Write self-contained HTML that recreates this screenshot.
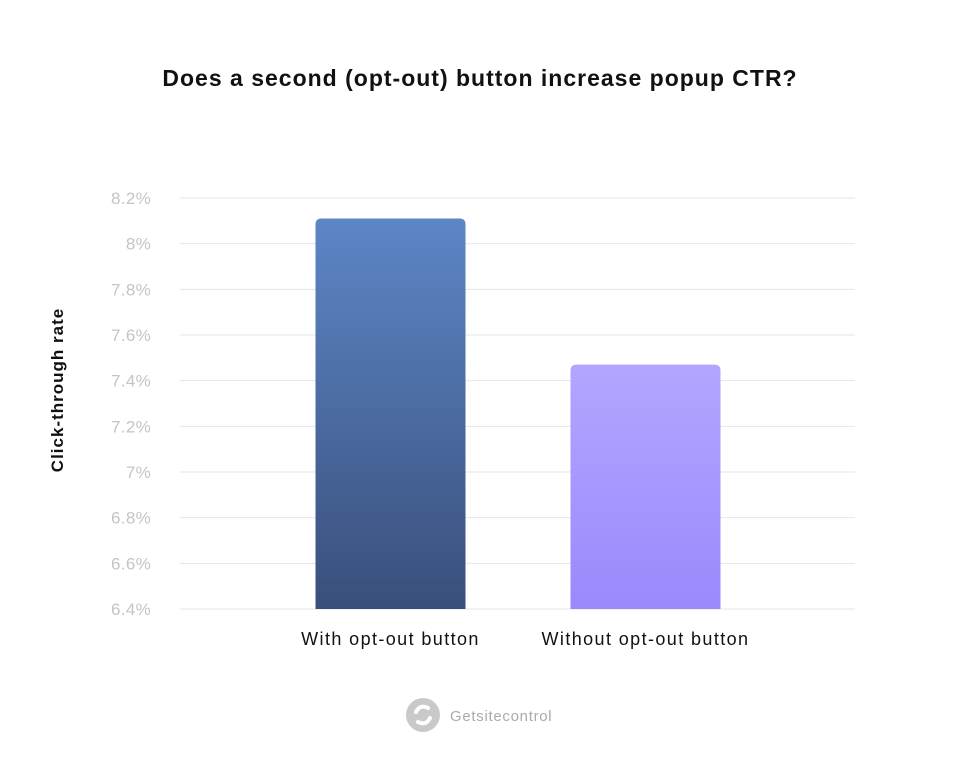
<!DOCTYPE html>
<html><head><meta charset="utf-8"><style>
html,body{margin:0;padding:0;background:#fff;}
body{width:960px;height:778px;overflow:hidden;font-family:"Liberation Sans",sans-serif;}
</style></head><body>
<svg width="960" height="778" viewBox="0 0 960 778">
<defs>
<linearGradient id="g1" x1="0" y1="0" x2="0" y2="1"><stop offset="0" stop-color="#5d86c6"/><stop offset="1" stop-color="#394f7b"/></linearGradient>
<linearGradient id="g2" x1="0" y1="0" x2="0" y2="1"><stop offset="0" stop-color="#b1a6ff"/><stop offset="1" stop-color="#9a89fc"/></linearGradient>
</defs>
<text x="480" y="86" text-anchor="middle" font-size="23" font-weight="bold" letter-spacing="1" fill="#111">Does a second (opt-out) button increase popup CTR?</text>
<text transform="translate(63,390) rotate(-90)" text-anchor="middle" font-size="17" font-weight="bold" letter-spacing="1" fill="#111">Click-through rate</text>
<g id="grid"></g><g id="bars"></g><g id="labels"></g>
<g>
<circle cx="423" cy="715" r="17" fill="#c9c9c9"/>
<path d="M416 712 q4 -8 12 -4 M430 718 q-4 8 -12 4" stroke="#fff" stroke-width="4" fill="none" stroke-linecap="round"/>
<text x="450" y="721" font-size="15" letter-spacing="0.7" fill="#aaa">Getsitecontrol</text>
</g>
</svg>
<script>
const categories=["With opt-out button","Without opt-out button"];
const values=[8.11,7.47];
const ticks=[6.4,6.6,6.8,7,7.2,7.4,7.6,7.8,8,8.2];
const tickLabels=["6.4%","6.6%","6.8%","7%","7.2%","7.4%","7.6%","7.8%","8%","8.2%"];
const NS="http://www.w3.org/2000/svg";
const y0=609,y1=198,vmin=6.4,vmax=8.2;
function y(v){return y0-(v-vmin)/(vmax-vmin)*(y0-y1);}
function xc(i){return 390.5+i*255;}
const grid=document.getElementById('grid'),bars=document.getElementById('bars'),labels=document.getElementById('labels');
ticks.forEach((t,i)=>{
 const l=document.createElementNS(NS,'line');
 l.setAttribute('x1',180);l.setAttribute('x2',855);l.setAttribute('y1',y(t));l.setAttribute('y2',y(t));
 l.setAttribute('stroke','#e6e6e6');l.setAttribute('stroke-width',1);
 
 
 grid.appendChild(l);
 const tx=document.createElementNS(NS,'text');
 tx.setAttribute('x',151);tx.setAttribute('y',y(t)+6);tx.setAttribute('text-anchor','end');
 tx.setAttribute('font-size','17');tx.setAttribute('letter-spacing','0.3');tx.setAttribute('fill','#c4c4c4');tx.textContent=tickLabels[i];
 
 
 grid.appendChild(tx);
});
values.forEach((v,i)=>{
 const w=150,top=y(v),r=6;
 const p=document.createElementNS(NS,'path');
 const x=xc(i)-w/2;
 p.setAttribute('d',`M${x} ${y0} V${top+r} Q${x} ${top} ${x+r} ${top} H${x+w-r} Q${x+w} ${top} ${x+w} ${top+r} V${y0} Z`);
 p.setAttribute('fill',i===0?'url(#g1)':'url(#g2)');
 
 
 bars.appendChild(p);
 const tx=document.createElementNS(NS,'text');
 tx.setAttribute('x',xc(i));tx.setAttribute('y',645);tx.setAttribute('text-anchor','middle');
 tx.setAttribute('font-size','18');tx.setAttribute('letter-spacing','1.4');tx.setAttribute('fill','#111');tx.textContent=categories[i];
 
 
 labels.appendChild(tx);
});
</script>
</body></html>
